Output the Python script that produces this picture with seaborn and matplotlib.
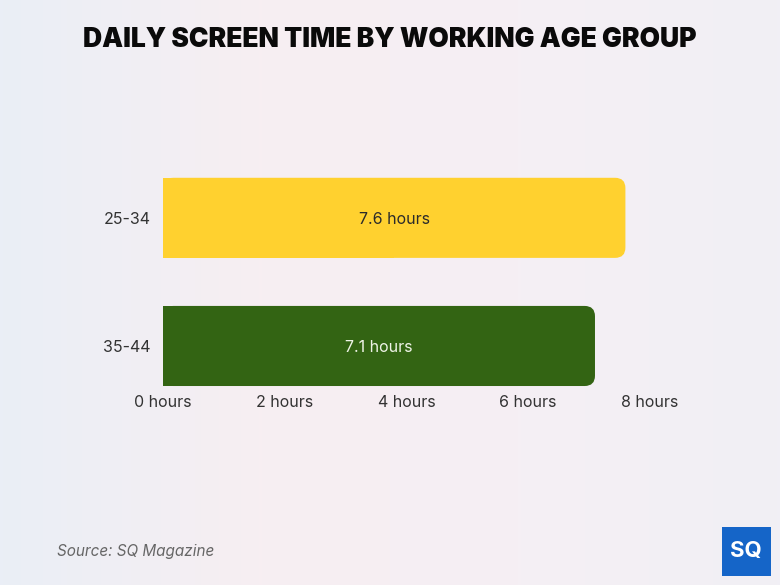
import numpy as np
import pandas as pd
import matplotlib
matplotlib.use("Agg")
import matplotlib.pyplot as plt
import seaborn as sns
from matplotlib.patches import FancyBboxPatch, Rectangle
from matplotlib.colors import LinearSegmentedColormap

age_groups = ["25-34", "35-44"]
hours = [7.6, 7.1]
bar_colors = ["#FFD12F", "#336413"]
label_colors = ["#2b2b2b", "#eef3e6"]
x_ticks = [0, 2, 4, 6, 8]
x_tick_labels = [f"{t} hours" for t in x_ticks]

sns.set_style("white")
plt.rcParams['font.family'] = ['Inter', 'DejaVu Sans']

df = pd.DataFrame({"age": age_groups, "hours": hours})

fig = plt.figure(figsize=(7.8, 5.85), dpi=100)

# soft background gradient
bg = fig.add_axes([0, 0, 1, 1], zorder=-10)
grad = np.linspace(0, 1, 256).reshape(1, -1)
cmap = LinearSegmentedColormap.from_list("bg", ["#eaeef6", "#f7eef2", "#f5eff4", "#f1eff5"])
bg.imshow(grad, aspect="auto", cmap=cmap, extent=[0, 1, 0, 1])
bg.axis("off")

ax = fig.add_axes([0.209, 0.3385, 0.624, 0.3658])
ax.patch.set_alpha(0)
sns.barplot(data=df, x="hours", y="age", hue="age", palette=bar_colors,
            width=0.625, legend=False, ax=ax, saturation=1)

ax.set_xlim(0, 8)
ax.set_ylim(1.32, -0.35)

# round the right end of every bar
rx, ry = 0.17, 0.08
for patch, col in zip(list(ax.patches), bar_colors):
    x0, y0 = patch.get_x(), patch.get_y()
    w, h = patch.get_width(), patch.get_height()
    patch.remove()
    ax.add_patch(FancyBboxPatch((x0, y0), w, h,
                                boxstyle=f"round,pad=0,rounding_size={rx}",
                                mutation_aspect=ry / rx, fc=col, ec="none", zorder=2))
    ax.add_patch(Rectangle((x0, y0), w / 2, h, fc=col, ec="none", zorder=2))

for i, (v, c) in enumerate(zip(hours, label_colors)):
    ax.text(v / 2, i + 0.01, f"{v} hours", ha="center", va="center", fontsize=11.5,
            color=c, zorder=3)

ax.set_xticks(x_ticks)
ax.set_xticklabels(x_tick_labels, fontsize=11.5, color="#333333")
ax.tick_params(axis="x", length=0, pad=6)
ax.tick_params(axis="y", length=0, pad=9, labelsize=11.5, labelcolor="#333333")
ax.set_xlabel("")
ax.set_ylabel("")
for s in ax.spines.values():
    s.set_visible(False)

fig.text(0.5, 0.932, "DAILY SCREEN TIME BY WORKING AGE GROUP", ha="center", va="center",
         fontsize=19, fontweight="black", color="#0a0a0a")

fig.text(0.073, 0.057, "Source: SQ Magazine", ha="left", va="center",
         fontsize=11, style="italic", color="#666666")

# logo box
fig.patches.append(Rectangle((0.925, 0.016), 0.063, 0.084, transform=fig.transFigure,
                             fc="#1565c8", ec="none", figure=fig))
fig.text(0.9565, 0.058, "SQ", ha="center", va="center", fontsize=16,
         fontweight="bold", color="white")

fig.savefig("out.png", dpi=100)
